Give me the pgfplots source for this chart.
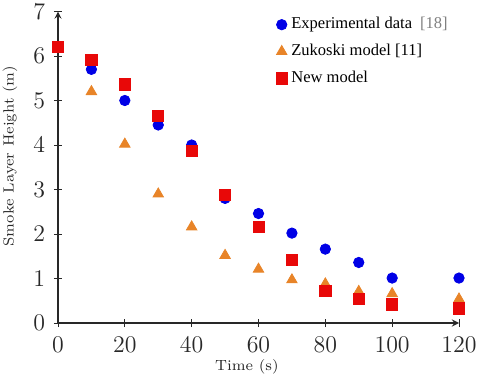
\documentclass[border=0pt]{standalone}
\usepackage{pgfplots}
\pgfplotsset{compat=1.18}
\usetikzlibrary{calc}
\usepackage{fontspec}
\newfontfamily\legfont{Liberation Serif}
\definecolor{cblue}{RGB}{0,0,230}
\definecolor{corange}{RGB}{232,132,40}
\definecolor{cred}{RGB}{232,8,8}
\definecolor{axcol}{RGB}{40,40,40}
\begin{document}
\begin{tikzpicture}
\begin{axis}[
  scale only axis,
  width=200.5bp, height=155.75bp,
  xmin=0, xmax=120, ymin=0, ymax=7,
  axis lines=left,
  axis line style={axcol, line width=0.6pt, -stealth},
  xtick={0,20,40,60,80,100,120},
  ytick={0,1,2,3,4,5,6,7},
  tick align=center,
  major tick length=4bp,
  tick style={axcol, line width=0.4pt},
  ticklabel style={font=\fontsize{11.5}{12}\selectfont, text=axcol},
  xticklabel style={yshift=-1.5bp},
  yticklabel style={xshift=-1bp},
  clip=false,
  xlabel={Time (s)},
  ylabel={Smoke Layer Height (m)},
  label style={font=\fontsize{7.4}{8}\selectfont, text=axcol},
  xlabel style={at={(axis description cs:0.471,0)}, anchor=center, yshift=-22bp},
  ylabel style={at={(axis description cs:0,0.536)}, anchor=center, yshift=24bp},
  legend style={draw=none, fill=none, font=\legfont\fontsize{8.3}{9}\selectfont,
    at={(rel axis cs:0.543,0.995)}, anchor=north west, row sep=2.2bp,
    inner sep=0pt, /tikz/every even column/.append style={column sep=8bp}},
  legend cell align=left,
  legend image code/.code={\draw[#1] plot coordinates {(0,0)};},
]
\addplot[only marks, mark=*, mark size=2.6bp, color=cblue, mark options={draw=cblue, fill=cblue}]
  coordinates {(0,6.2)(10,5.7)(20,5.0)(30,4.45)(40,4.0)(50,2.8)(60,2.46)(70,2.02)(80,1.66)(90,1.36)(100,1.01)(120,1.01)};
\addlegendentry{Experimental data\hspace{4bp}\textcolor{gray}{[18]}}
\addplot[only marks, mark=triangle*, mark size=3bp, color=corange, mark options={draw=corange, fill=corange}]
  coordinates {(10,5.2)(20,4.02)(30,2.9)(40,2.16)(50,1.52)(60,1.21)(70,0.97)(80,0.88)(90,0.71)(100,0.66)(120,0.54)};
\addlegendentry{Zukoski model [11]}
\addplot[only marks, mark=square*, mark size=2.8bp, color=cred, mark options={draw=cred, fill=cred}]
  coordinates {(0,6.2)(10,5.91)(20,5.36)(30,4.65)(40,3.87)(50,2.88)(60,2.16)(70,1.42)(80,0.73)(90,0.55)(100,0.42)(120,0.33)};
\addlegendentry{New model}
\end{axis}
\pgfresetboundingbox
\useasboundingbox ($(current axis.south west)+(-29bp,-27.5bp)$) rectangle ($(current axis.north east)+(10.5bp,5.75bp)$);
\end{tikzpicture}
\end{document}
